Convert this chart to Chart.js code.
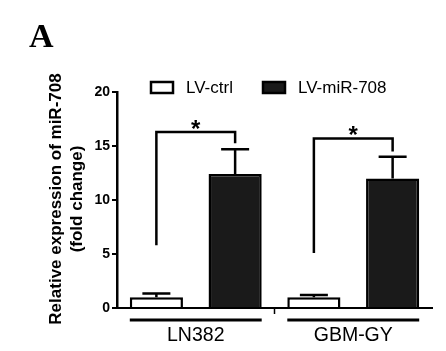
<!DOCTYPE html>
<html>
<head>
<meta charset="utf-8">
<script src="https://cdn.jsdelivr.net/npm/chart.js@4.4.0/dist/chart.umd.min.js"></script>
<style>
  body { margin: 0; background: #fff; }
  #wrap { width: 446px; height: 351px; position: relative; }
</style>
</head>
<body>
<div id="wrap"><canvas id="barChart"></canvas></div>
<script>
// data
const categories = ['LN382', 'GBM-GY'];
const seriesNames = ['LV-ctrl', 'LV-miR-708'];
const ctrlMean = [1.0, 1.0];
const ctrlErr = [0.35, 0.2];
const mirMean = [12.4, 12.0];
const mirErr = [2.3, 2.0];
const yTicks = [0, 5, 10, 15, 20];
// significance brackets: [left foot, top, right foot] in fold change units
const bracketLeft = [5.8, 5.1];
const bracketTop = [16.3, 15.7];
const bracketRight = [15.25, 14.5];
const errors = [ctrlErr, mirErr];

let ctx = document.getElementById('barChart').getContext('2d');

const extras = {
    id: 'extras',
    afterDatasetsDraw(chart) {
        const c = chart.ctx;
        const xs = chart.scales.x;
        const ys = chart.scales.y;
        c.save();
        c.strokeStyle = '#000';
        c.fillStyle = '#000';
        c.lineWidth = 2.5;
        c.lineCap = 'butt';

        // error bars (upper only)
        chart.data.datasets.forEach(function (ds, di) {
            const meta = chart.getDatasetMeta(di);
            meta.data.forEach(function (bar, i) {
                const yTop = ys.getPixelForValue(ds.data[i] + errors[di][i]);
                const yBar = ys.getPixelForValue(ds.data[i]);
                c.beginPath();
                c.moveTo(bar.x, yBar);
                c.lineTo(bar.x, yTop);
                c.moveTo(bar.x - 14, yTop);
                c.lineTo(bar.x + 14, yTop);
                c.stroke();
            });
        });

        // brackets and stars
        const m0 = chart.getDatasetMeta(0), m1 = chart.getDatasetMeta(1);
        categories.forEach(function (cat, i) {
            const xl = m0.data[i].x, xr = m1.data[i].x;
            const yt = ys.getPixelForValue(bracketTop[i]);
            c.beginPath();
            c.moveTo(xl, ys.getPixelForValue(bracketLeft[i]));
            c.lineTo(xl, yt);
            c.lineTo(xr, yt);
            c.lineTo(xr, ys.getPixelForValue(bracketRight[i]));
            c.stroke();
            c.font = 'bold 24px Arial, "Liberation Sans"';
            c.textAlign = 'center';
            c.textBaseline = 'alphabetic';
            c.fillText('*', (xl + xr) / 2, yt + 5);

            // group underline
            const left = m0.data[i].x - m0.data[i].width / 2;
            const right = m1.data[i].x + m1.data[i].width / 2;
            c.lineWidth = 3;
            c.beginPath();
            c.moveTo(left, ys.bottom + 12);
            c.lineTo(right, ys.bottom + 12);
            c.stroke();
            c.lineWidth = 2.5;
        });

        // middle tick on x axis
        const xm = (xs.getPixelForValue(0) + xs.getPixelForValue(1)) / 2;
        c.lineWidth = 1.5;
        c.beginPath();
        c.moveTo(xm, ys.bottom);
        c.lineTo(xm, ys.bottom + 6);
        c.stroke();

        // legend
        c.font = '17px Arial, "Liberation Sans"';
        c.textAlign = 'left';
        c.textBaseline = 'middle';
        c.lineWidth = 2.5;
        const lx = [151, 263];
        chart.data.datasets.forEach(function (ds, di) {
            c.fillStyle = ds.backgroundColor;
            c.fillRect(lx[di], 82, 22, 11);
            c.strokeRect(lx[di], 82, 22, 11);
            c.fillStyle = '#000';
            c.fillText(ds.label, lx[di] + 35, 88);
        });

        // y axis title
        c.save();
        c.translate(56, 199);
        c.rotate(-Math.PI / 2);
        c.font = 'bold 17px Arial, "Liberation Sans"';
        c.textAlign = 'center';
        c.fillText('Relative expression of miR-708', 0, 0);
        c.fillText('(fold change)', 0, 21);
        c.restore();

        // panel letter
        c.font = 'bold 34px "Liberation Serif", "DejaVu Serif", serif';
        c.textAlign = 'left';
        c.textBaseline = 'alphabetic';
        c.fillText('A', 29, 47);
        c.restore();
    }
};

let myBarChart = new Chart(ctx, {
    type: 'bar',
    data: {
        labels: categories,
        datasets: [{
            label: seriesNames[0],
            data: ctrlMean,
            backgroundColor: '#ffffff',
            borderColor: '#000000',
            borderWidth: 2.5
        },
        {
            label: seriesNames[1],
            data: mirMean,
            backgroundColor: '#1a1a1a',
            borderColor: '#000000',
            borderWidth: 2.5
        }]
    },
    options: {
        responsive: true,
        maintainAspectRatio: false,
        animation: false,
        categoryPercentage: 1.0,
        barPercentage: 0.675,
        layout: { padding: { left: 0, top: 92, right: 14, bottom: 0 } },
        plugins: {
            legend: { display: false },
            tooltip: { enabled: false }
        },
        scales: {
            x: {
                grid: { display: false, drawTicks: false },
                border: { color: '#000', width: 2 },
                ticks: {
                    color: '#000',
                    padding: 16,
                    font: { family: 'Arial, "Liberation Sans"', size: 19.5 }
                },
                afterFit(scale) { scale.height = 43; }
            },
            y: {
                min: 0,
                max: 20,
                afterBuildTicks(scale) { scale.ticks = yTicks.map(v => ({ value: v })); },
                grid: { drawOnChartArea: false, color: '#000', lineWidth: 2, tickLength: 5 },
                border: { color: '#000', width: 2.5 },
                ticks: {
                    color: '#000',
                    padding: 2,
                    font: { family: 'Arial, "Liberation Sans"', size: 14, weight: 'bold' }
                },
                afterFit(scale) { scale.width = 117; }
            }
        }
    },
    plugins: [extras]
});
</script>
</body>
</html>
